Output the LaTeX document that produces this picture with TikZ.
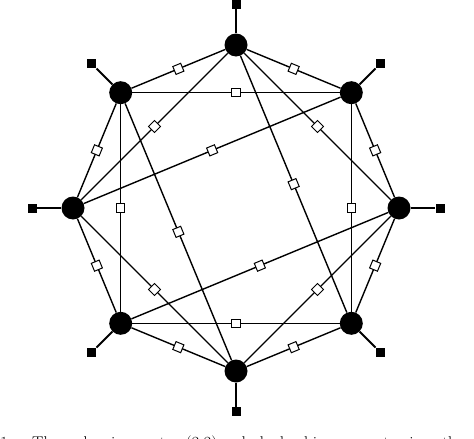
\documentclass[tikz,border=0pt]{standalone}
\begin{document}
\begin{tikzpicture}[x=1pt,y=-1pt,
  bn/.style={circle,fill=black,minimum size=23pt,inner sep=0pt},
  bsq/.style={rectangle,fill=black,minimum size=9pt,inner sep=0pt},
  wsq/.style={rectangle,draw=black,fill=white,line width=1pt,minimum size=8.5pt,inner sep=0pt,sloped},
  edge/.style={line width=1.4pt},
  stub/.style={line width=2pt}]
\useasboundingbox (0,0) rectangle (474,439);
% main vertices
\node[bn] (n)  at (236,45) {};
\node[bn] (ne) at (351.3,92.7) {};
\node[bn] (e)  at (399,208) {};
\node[bn] (se) at (351.3,323.3) {};
\node[bn] (s)  at (236,371) {};
\node[bn] (sw) at (120.7,323.3) {};
\node[bn] (w)  at (73,208) {};
\node[bn] (nw) at (120.7,92.7) {};
% pendant squares
\node[bsq] (pn)  at (236,4.5) {};
\node[bsq] (pne) at (380.2,63.8) {};
\node[bsq] (pe)  at (440,208) {};
\node[bsq] (pse) at (380.2,352.2) {};
\node[bsq] (ps)  at (236,411.5) {};
\node[bsq] (psw) at (91.8,352.2) {};
\node[bsq] (pw)  at (32,208) {};
\node[bsq] (pnw) at (91.8,63.8) {};
\foreach \a/\b in {n/pn,ne/pne,e/pe,se/pse,s/ps,sw/psw,w/pw,nw/pnw}
  \draw[stub] (\a) -- (\b);
% edges with midpoint squares
\foreach \a/\b in {n/ne,ne/e,e/se,se/s,s/sw,sw/w,w/nw,nw/n,
                   nw/ne,ne/se,se/sw,sw/nw,
                   n/w,n/e,s/w,s/e,
                   n/se,s/nw,w/ne,e/sw}
  \draw[edge] (\a) -- node[wsq]{} (\b);
% caption (cut off by the page edge, as in the reference)
\node[anchor=base west,inner sep=0pt,font=\fontsize{17}{20}\selectfont] (cap) at (0,448)
  {\hbox to 500pt{1.\hfil The\hfil dancing\hfil at\hfil (3,3)\hfil dashed\hfil binary\hfil cut\hfil in\hfil the\hfil 3S}};
\end{tikzpicture}
\end{document}
